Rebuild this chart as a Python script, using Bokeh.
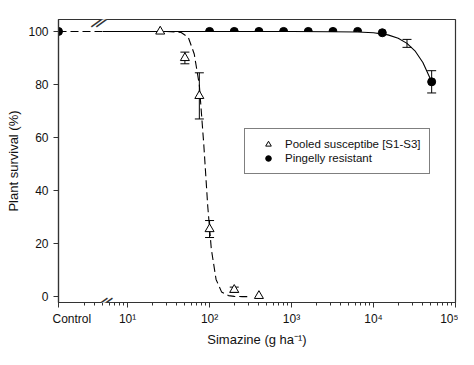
import numpy as np
from bokeh.plotting import figure
from bokeh.models import (ColumnDataSource, Whisker, TeeHead, FixedTicker, Legend,
                          LegendItem, Label, Range1d)
from bokeh.embed import file_html
from bokeh.resources import INLINE

# ---------------- data ----------------
# Pooled susceptible [S1-S3]
sus_dose = [25, 50, 75, 100, 200, 400]
sus_surv = [100, 90, 75.7, 25.5, 2.6, 0.3]
sus_se = [0, 2.2, 8.7, 3.2, 1.0, 0]

# Pingelly resistant ("Control" sits at the left edge of the axis)
res_dose = ["Control", 100, 200, 400, 800, 1600, 3200, 6400, 12800, 51200]
res_surv = [100, 100, 100, 100, 100, 100, 100, 100, 99.5, 81]
res_bar_dose = [25600, 51200]
res_bar_surv = [95.5, 81]
res_bar_se = [1.5, 4.2]

# fitted curves
sus_fit_dose = ["Control", 10, 30, 45, 55, 65, 75, 85, 95, 105, 120, 140, 170, 200, 250, 320]
sus_fit_surv = [100, 100, 100, 99.6, 97.8, 91.5, 79.8, 57.4, 34.1, 18.0, 6.5, 1.8, 0.4, 0.1, 0, 0]
res_fit_dose = [5, 100, 1000, 3000, 6400, 10000, 15000, 20000, 25600, 32000, 40000, 51200]
res_fit_surv = [100, 100, 100, 99.9, 99.8, 99.5, 98.7, 97.4, 95.5, 92.7, 88.3, 81]

x_tick_labels = ["Control", "10\u00b9", "10\u00b2", "10\u00b3", "10\u2074", "10\u2075"]
y_ticks = [0, 20, 40, 60, 80, 100]

# ---------------- layout constants ----------------
X_MIN, X_MAX = 1.436, 1e5
Y_MIN, Y_MAX = -2.2, 104.5
CONTROL_X = X_MIN
BREAK_X = 4.7
FONT = "Liberation Sans"
AX = "#333333"


def dose_to_x(d):
    return [CONTROL_X if v == "Control" else float(v) for v in d]


p = figure(width=458, height=349, x_axis_type="log",
           x_range=Range1d(X_MIN, X_MAX), y_range=Range1d(Y_MIN, Y_MAX),
           min_border_left=58, min_border_right=3, min_border_top=19, min_border_bottom=46,
           output_backend="svg", toolbar_location=None)
p.grid.visible = False
p.outline_line_color = AX
p.outline_line_width = 1.2
p.background_fill_color = "white"
p.border_fill_color = "white"

# fitted curves
p.line(dose_to_x(sus_fit_dose), sus_fit_surv, line_color="black", line_width=1.1,
       line_dash="8 4")
p.line(res_fit_dose, res_fit_surv, line_color="black", line_width=1.1)

# error bars
sus_src = ColumnDataSource(dict(
    x=[d for d, e in zip(sus_dose, sus_se) if e > 0],
    upper=[s + e for s, e in zip(sus_surv, sus_se) if e > 0],
    lower=[s - e for s, e in zip(sus_surv, sus_se) if e > 0]))
res_src = ColumnDataSource(dict(
    x=res_bar_dose,
    upper=[s + e for s, e in zip(res_bar_surv, res_bar_se)],
    lower=[s - e for s, e in zip(res_bar_surv, res_bar_se)]))
for src in (sus_src, res_src):
    p.add_layout(Whisker(base="x", upper="upper", lower="lower", source=src,
                         line_color="black", line_width=1,
                         upper_head=TeeHead(size=9, line_color="black", line_width=1),
                         lower_head=TeeHead(size=9, line_color="black", line_width=1)))

# markers
tri = p.scatter(sus_dose, sus_surv, marker="triangle", size=9,
                fill_color="white", line_color="black", line_width=1)

rx = dose_to_x(res_dose)
full = [(x, y) for x, y, d in zip(rx, res_surv, res_dose) if y < 100 or d == "Control"]
half = [(x, y) for x, y, d in zip(rx, res_surv, res_dose) if y >= 100 and d != "Control"]
p.wedge([h[0] for h in half], [h[1] for h in half], radius=4, radius_units="screen",
        start_angle=0, end_angle=np.pi, direction="anticlock",
        fill_color="black", line_color="black")
circ = p.scatter([f[0] for f in full], [f[1] for f in full], marker="circle", size=8,
                 fill_color="black", line_color="black")

# axes
major = [CONTROL_X, 10, 100, 1000, 1e4, 1e5]
minor = [m * 10 ** k for k in range(0, 5) for m in range(2, 10) if m * 10 ** k > 2.5]
p.xaxis.ticker = FixedTicker(ticks=major, minor_ticks=minor)
overrides = {t: l for t, l in zip(major, x_tick_labels)}
overrides[CONTROL_X] = "\u2007" * 4 + x_tick_labels[0]
p.xaxis.major_label_overrides = overrides
p.yaxis.ticker = FixedTicker(ticks=y_ticks, minor_ticks=[])

p.xaxis.axis_label = "Simazine (g ha\u207b\u00b9)"
p.yaxis.axis_label = "Plant survival (%)"
for ax in (p.xaxis, p.yaxis):
    ax.axis_line_color = AX
    ax.axis_line_width = 1.2
    ax.major_tick_line_color = AX
    ax.minor_tick_line_color = AX
    ax.major_tick_out = 5
    ax.major_tick_in = 0
    ax.minor_tick_out = 3
    ax.minor_tick_in = 0
    ax.major_label_text_font = FONT
    ax.major_label_text_font_size = "12px"
    ax.major_label_text_color = "#111111"
    ax.major_label_standoff = 5
    ax.axis_label_text_font = FONT
    ax.axis_label_text_font_size = "13px"
    ax.axis_label_text_font_style = "normal"
    ax.axis_label_text_color = "#111111"
p.xaxis.major_label_standoff = 4
p.xaxis.axis_label_standoff = 3
p.yaxis.axis_label_standoff = 4

# axis break marks ("//") on the bottom and top edges
ang = np.deg2rad(36)
for yb in (Y_MIN, Y_MAX):
    for off, col in ((-1, "white"), (0, "white"), (1, "white"), (-2.5, AX), (2.5, AX)):
        p.add_layout(Label(x=BREAK_X, y=yb, text="\u2014", x_offset=off, angle=ang,
                           text_align="center", text_baseline="middle",
                           text_font=FONT, text_font_size="20px", text_color=col))

# legend
legend = Legend(items=[LegendItem(label="Pooled susceptibe [S1-S3]", renderers=[tri]),
                       LegendItem(label="Pingelly resistant", renderers=[circ])],
                location=(186, 128))
legend.border_line_color = "black"
legend.border_line_width = 1
legend.padding = 8
legend.margin = 0
legend.spacing = 0
legend.glyph_width = 30
legend.glyph_height = 14
legend.label_height = 14
legend.label_standoff = 2
legend.label_text_font = FONT
legend.label_text_font_size = "11.5px"
legend.label_text_color = "#111111"
p.add_layout(legend)

open("out.html", "w").write(file_html(p, INLINE))
